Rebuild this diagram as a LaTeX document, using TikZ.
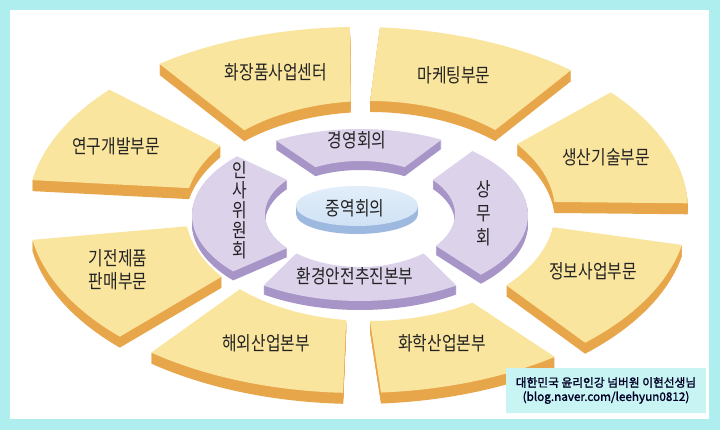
\documentclass[tikz,border=0pt]{standalone}
\usepackage{fontspec}
\setmainfont{Noto Sans CJK KR}
\newfontfamily\wmfont[FakeBold=1.5]{Noto Sans CJK KR}

\definecolor{bgcyan}{HTML}{AFEEEE}
\definecolor{wmbox}{HTML}{C8F4F4}
\definecolor{segyellow}{HTML}{FAE59E}
\definecolor{segorange}{HTML}{E8A64B}
\definecolor{segpurple}{HTML}{DCD2EA}
\definecolor{segpurpledark}{HTML}{A795C7}
\definecolor{hubblue}{HTML}{CFE2F5}
\definecolor{hubbluedark}{HTML}{9DB9E0}
\definecolor{labelgray}{HTML}{222222}

\tikzset{
  ytop/.style={fill=segyellow},
  yside/.style={fill=segorange},
  ptop/.style={fill=segpurple},
  pside/.style={fill=segpurpledark},
  lbl/.style={font=\fontsize{16.5}{19}\selectfont, xscale=.82, text=labelgray, inner sep=0pt},
}

% yellow ring: #1 inner low, #2 outer low, #3 outer high, #4 inner high
\newcommand\ysecpath[4]{({370+185*cos(#1)},{219+110*sin(#1)}) -- ({358+330*cos(#2)},{220+183*sin(#2)})
  arc[start angle=#2, end angle=#3, x radius=330, y radius=183]
  -- ({370+185*cos(#4)},{219+110*sin(#4)})
  arc[start angle=#4, end angle=#1, x radius=185, y radius=110] -- cycle}
\newcommand\ysec[4]{%
  \foreach \d in {1,...,11}{\fill[yside,yshift=-\d*0.03cm] \ysecpath{#1}{#2}{#3}{#4};}
  \fill[ytop] \ysecpath{#1}{#2}{#3}{#4};}

% purple ring
\newcommand\psecpath[4]{({360+95*cos(#1)},{216+53*sin(#1)}) -- ({360+168*cos(#2)},{215+86*sin(#2)})
  arc[start angle=#2, end angle=#3, x radius=168, y radius=86]
  -- ({360+95*cos(#4)},{216+53*sin(#4)})
  arc[start angle=#4, end angle=#1, x radius=95, y radius=53] -- cycle}
\newcommand\psec[4]{%
  \foreach \d in {1,...,9}{\fill[pside,yshift=-\d*0.03cm] \psecpath{#1}{#2}{#3}{#4};}
  \fill[ptop] \psecpath{#1}{#2}{#3}{#4};}

\begin{document}
\begin{tikzpicture}[x=0.03cm,y=0.03cm]
\useasboundingbox (0,0) rectangle (720,430);
\fill[bgcyan] (0,0) rectangle (720,430);
\fill[white] (10,11) rectangle (709,420);

% outer ring
\ysec{96}{91.4}{127}{132.8}
\ysec{47.4}{49.8}{86.2}{90}
\ysec{4.7}{2.1}{40}{37.4}
\ysec{-42.5}{-46.5}{-11}{-8.5}
\ysec{-90}{-86}{-53.4}{-56.4}
\ysec{-134.7}{-128.8}{-92.6}{-97.4}
\ysec{188}{189.4}{223.8}{216.7}
\ysec{143.8}{138.9}{170.6}{168}

% inner ring
\psec{62}{61}{120}{118}
\psec{-37}{-44}{48}{40}
\psec{228}{235}{305}{312}
\psec{140}{137}{221}{220}

% hub
\foreach \d in {1,...,8}{\fill[hubbluedark] (357,224-\d) ellipse[x radius=61, y radius=20];}
\shade[top color=hubblue!60!white, bottom color=hubblue] (357,224) ellipse[x radius=61, y radius=20];

\node[lbl] (cosmetics) at (276,358) {화장품사업센터};
\node[lbl] (marketing) at (454,355) {마케팅부문};
\node[lbl] (production) at (606,273) {생산기술부문};
\node[lbl] (infobiz) at (593,159) {정보사업부문};
\node[lbl] (chemical) at (442,87) {화학산업본부};
\node[lbl] (overseas) at (266,87) {해외산업본부};
\node[lbl, align=center, font=\fontsize{16.5}{19.5}\selectfont] (appliance) at (118,160) {기전제품\\판매부문};
\node[lbl] (research) at (116,284) {연구개발부문};

\node[lbl] (mgmt) at (357,290) {경영회의};
\node[lbl] (safety) at (355,154) {환경안전추진본부};
\node[lbl, align=center, font=\fontsize{16.5}{17}\selectfont] (personnel) at (240,220) {인\\사\\위\\원\\회};
\node[lbl, align=center, font=\fontsize{16.5}{20.5}\selectfont] (executive) at (484,217) {상\\무\\회};
\node[lbl] (board) at (355,222) {중역회의};

% watermark
\fill[wmbox] (506,17) rectangle (706,62);
\node[font=\wmfont\fontsize{10}{12}\selectfont, text=black!85!blue, align=center, inner sep=0pt]
  (credit) at (606,39.5) {대한민국 윤리인강 넘버원 이현선생님\\(blog.naver.com/leehyun0812)};
\end{tikzpicture}
\end{document}
